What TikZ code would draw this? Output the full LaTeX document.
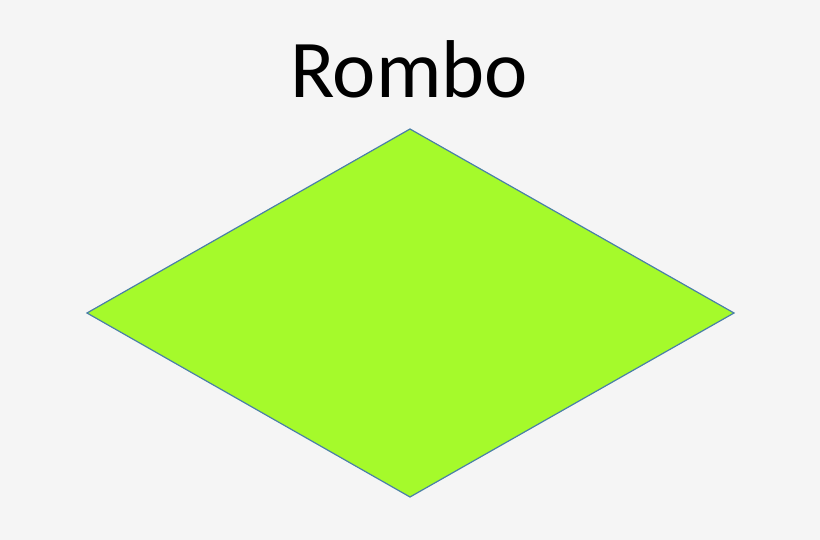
\documentclass[tikz,border=0pt]{standalone}
\usepackage{fontspec}
\setmainfont{Carlito}
\definecolor{bg}{HTML}{F5F5F5}
\definecolor{rfill}{HTML}{A5FA2B}
\definecolor{rline}{HTML}{4A7FA8}
\begin{document}
\begin{tikzpicture}[x=1pt,y=-1pt,
  titletext/.style={font=\fontsize{82}{90}\selectfont, text=black, anchor=base, inner sep=0pt},
  rhombus/.style={fill=rfill, draw=rline, line width=1.2pt, line join=miter}]
\fill[bg] (0,0) rectangle (820,540);
\useasboundingbox (0,0) rectangle (820,540);
\node[titletext] (title) at (409,98) {Rombo};
\coordinate (t) at (410,129);
\coordinate (r) at (734,313);
\coordinate (b) at (410,497);
\coordinate (l) at (87,313);
\draw[rhombus] (t) -- (r) -- (b) -- (l) -- cycle;
\end{tikzpicture}
\end{document}
